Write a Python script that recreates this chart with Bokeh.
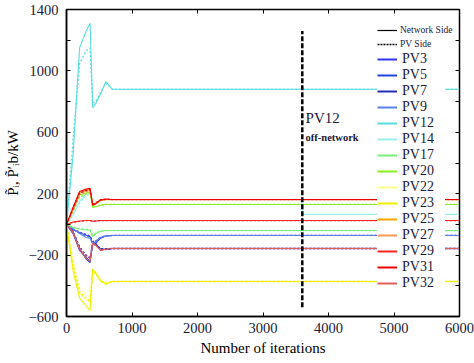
from bokeh.plotting import figure
from bokeh.models import Legend, LegendItem, LinearAxis, FixedTicker, Label
from bokeh.embed import file_html
from bokeh.resources import INLINE

# ---------------- data ----------------
iters = [0, 100, 200, 300, 360, 400, 450, 520, 600, 700, 3590, 3610, 6000]

names = ["PV3", "PV5", "PV7", "PV9", "PV12", "PV14", "PV17", "PV20",
         "PV22", "PV23", "PV25", "PV27", "PV29", "PV31", "PV32"]
colors = ["#3333ff", "#2244dd", "#2a2ab8", "#5a80e8", "#55dddd", "#99eeee",
          "#77ee77", "#88ee22", "#ffff88", "#eeee00", "#ffa500", "#ff9955",
          "#ff2222", "#ee0000", "#e06060"]

# Network side (solid)
net_PV3 = [0, -35, -55, -70, -80, -125, -120, -90, -75, -72, -72, -72, -72]
net_PV5 = [0, -60, -170, -215, -240, -125, -130, -160, -165, -157, -157, -157, -157]
net_PV7 = [0, -50, -160, -225, -248, -118, -125, -170, -160, -157, -157, -157, -157]
net_PV9 = [0, -30, -60, -85, -90, -130, -110, -85, -75, -72, -72, -72, -72]
net_PV12 = [0, 450, 1150, 1260, 1310, 760, 790, 850, 930, 880, 880, 880, 880]
net_PV14 = [0, 60, 150, 200, 215, 130, 140, 160, 162, 162, 162, 65, 65]
net_PV17 = [0, -20, -30, -35, -38, -80, -60, -45, -40, -40, -40, -40, -40]
net_PV20 = [0, 90, 190, 205, 210, 110, 115, 125, 130, 130, 130, 130, 130]
net_PV22 = [0, -250, -450, -490, -510, -300, -310, -360, -385, -372, -372, -372, -372]
net_PV23 = [0, -300, -480, -530, -560, -290, -320, -370, -390, -372, -372, -372, -372]
net_PV25 = [0, 100, 210, 225, 232, 125, 135, 155, 162, 162, 162, 162, 162]
net_PV27 = [0, 95, 205, 220, 228, 130, 140, 158, 162, 162, 162, 162, 162]
net_PV29 = [0, 15, 22, 25, 25, 20, 22, 25, 25, 25, 25, 25, 25]
net_PV31 = [0, 110, 215, 230, 235, 125, 135, 160, 165, 162, 162, 162, 162]
net_PV32 = [0, -55, -165, -220, -240, -120, -135, -170, -162, -157, -157, -157, -157]

# PV side (dotted)
pv_PV3 = [0, -30, -50, -65, -75, -110, -110, -85, -74, -72, -72, -72, -72]
pv_PV5 = [0, -55, -150, -200, -215, -130, -135, -158, -160, -157, -157, -157, -157]
pv_PV7 = [0, -45, -145, -205, -220, -125, -130, -162, -158, -157, -157, -157, -157]
pv_PV9 = [0, -28, -55, -78, -85, -120, -105, -82, -74, -72, -72, -72, -72]
pv_PV12 = [0, 550, 1050, 1130, 1150, 790, 800, 860, 920, 880, 880, 880, 880]
pv_PV14 = [0, 70, 140, 190, 200, 135, 145, 160, 162, 162, 162, 65, 65]
pv_PV17 = [0, -18, -28, -32, -35, -70, -55, -43, -40, -40, -40, -40, -40]
pv_PV20 = [0, 85, 180, 195, 200, 115, 120, 127, 130, 130, 130, 130, 130]
pv_PV22 = [0, -230, -420, -460, -480, -310, -320, -360, -380, -372, -372, -372, -372]
pv_PV23 = [0, -270, -440, -480, -500, -300, -325, -368, -385, -372, -372, -372, -372]
pv_PV25 = [0, 95, 200, 215, 222, 130, 140, 157, 162, 162, 162, 162, 162]
pv_PV27 = [0, 90, 195, 210, 218, 133, 142, 159, 162, 162, 162, 162, 162]
pv_PV29 = [0, 14, 20, 24, 25, 21, 23, 25, 25, 25, 25, 25, 25]
pv_PV31 = [0, 105, 205, 220, 225, 130, 140, 160, 163, 162, 162, 162, 162]
pv_PV32 = [0, -50, -150, -205, -215, -125, -140, -165, -160, -157, -157, -157, -157]

net_side = [net_PV3, net_PV5, net_PV7, net_PV9, net_PV12, net_PV14, net_PV17, net_PV20,
            net_PV22, net_PV23, net_PV25, net_PV27, net_PV29, net_PV31, net_PV32]
pv_side = [pv_PV3, pv_PV5, pv_PV7, pv_PV9, pv_PV12, pv_PV14, pv_PV17, pv_PV20,
           pv_PV22, pv_PV23, pv_PV25, pv_PV27, pv_PV29, pv_PV31, pv_PV32]

event_iter = 3600
event_line_y = [-540, 1260]

x_ticks = [0, 1000, 2000, 3000, 4000, 5000, 6000]
y_ticks = [-600, -400, -200, 0, 200, 400, 600, 800, 1000, 1200, 1400]
y_tick_labels = ["\u2212600", "", "\u2212200", "", "200", "", "600", "", "1000", "", "1400"]

# ---------------- figure ----------------
FONT = "Liberation Serif"
p = figure(width=474, height=363, x_range=(0, 6000), y_range=(-600, 1400),
           output_backend="svg", toolbar_location=None,
           min_border_left=66, min_border_right=15, min_border_top=9, min_border_bottom=47)
p.grid.visible = False
p.outline_line_color = "black"
p.outline_line_width = 1.5
p.background_fill_color = "white"

for ax in (p.xaxis[0], p.yaxis[0]):
    ax.axis_line_color = "black"
    ax.axis_line_width = 1.5
    ax.major_tick_in = 4
    ax.major_tick_out = 0
    ax.minor_tick_line_color = None
    ax.major_label_text_font = FONT
    ax.major_label_text_font_size = "14.5px"
    ax.major_label_text_color = "#1a1a3a"
    ax.axis_label_text_font = FONT
    ax.axis_label_text_font_size = "15px"
    ax.axis_label_text_font_style = "normal"
    ax.axis_label_text_color = "black"

p.xaxis[0].ticker = FixedTicker(ticks=x_ticks)
p.xaxis[0].major_label_standoff = 6
p.xaxis[0].axis_label = "Number of iterations"
p.xaxis[0].axis_label_standoff = 4
p.yaxis[0].ticker = FixedTicker(ticks=y_ticks)
p.yaxis[0].major_label_overrides = {t: l for t, l in zip(y_ticks, y_tick_labels)}
p.yaxis[0].major_label_standoff = 8
p.yaxis[0].axis_label = "P\u0303\u1d62, P\u0303\u2032\u1d62b/kW"
p.yaxis[0].axis_label_standoff = 5

# mirrored axes (ticks only, no labels)
top = LinearAxis(ticker=FixedTicker(ticks=x_ticks),
                 major_label_overrides={t: "" for t in x_ticks},
                 major_label_standoff=0, major_tick_in=4, major_tick_out=0,
                 minor_tick_line_color=None, axis_line_color="black")
right = LinearAxis(ticker=FixedTicker(ticks=y_ticks),
                   major_label_overrides={t: "" for t in y_ticks},
                   major_label_standoff=0, major_tick_in=4, major_tick_out=0,
                   minor_tick_line_color=None, axis_line_color="black")
p.add_layout(top, "above")
p.add_layout(right, "right")

for name, col, net, pv in zip(names, colors, net_side, pv_side):
    p.line(iters, pv, line_color=col, line_width=1.3, line_dash="2 2")
    p.line(iters, net, line_color=col, line_width=1.1)

# off-network event line
p.segment(x0=[event_iter], y0=[event_line_y[0]], x1=[event_iter], y1=[event_line_y[1]],
          line_color="black", line_width=2.5, line_dash="5 2")
p.add_layout(Label(x=3650, y=690, text="PV12", text_font=FONT, text_font_size="15px",
                   text_color="#1a1a3a", text_baseline="middle"))
p.add_layout(Label(x=3650, y=565, text="off-network", text_font=FONT, text_font_size="10.5px",
                   text_font_style="bold", text_color="#1a1a3a", text_baseline="middle"))

# single-vertex renderers: draw nothing in the plot, only supply legend glyphs
rn = p.line([event_iter], [event_line_y[0]], line_color="black", line_width=1.2)
rp = p.line([event_iter], [event_line_y[0]], line_color="black", line_width=1.5, line_dash="2 1")
pv_items = []
for name, col in zip(names, colors):
    rl = p.line([event_iter], [event_line_y[0]], line_color=col, line_width=2)
    pv_items.append(LegendItem(label=name, renderers=[rl]))

legB = Legend(items=pv_items, location=(311, 25), glyph_width=20, glyph_height=16,
              label_height=16, label_width=43, spacing=0, padding=5, margin=0, label_standoff=5,
              label_text_font=FONT, label_text_font_size="14px", label_text_color="#1a1a3a",
              border_line_color=None, background_fill_color="white", background_fill_alpha=1.0)
legA = Legend(items=[LegendItem(label="Network Side", renderers=[rn]),
                     LegendItem(label="PV Side", renderers=[rp])],
              location=(311, 265), glyph_width=20, glyph_height=14,
              label_height=14, spacing=0, padding=5, margin=0, label_standoff=3,
              label_text_font=FONT, label_text_font_size="9.5px",
              label_text_color="#1a1a3a",
              border_line_color=None, background_fill_color="white", background_fill_alpha=1.0)
p.add_layout(legB)
p.add_layout(legA)

open("out.html", "w").write(file_html(p, INLINE))
